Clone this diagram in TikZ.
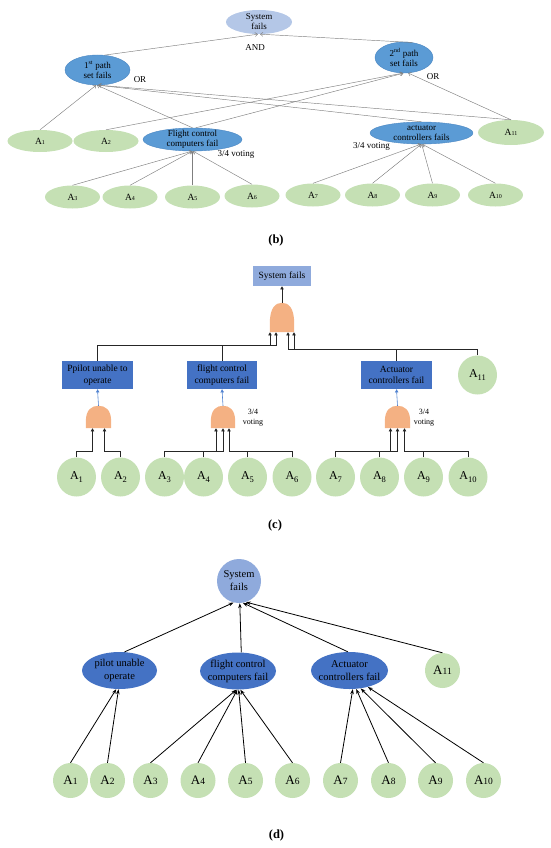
\documentclass[tikz,border=0pt]{standalone}
\usepackage{fontspec}
\setmainfont{Liberation Serif}
\usetikzlibrary{arrows.meta,shapes.geometric,calc}
\definecolor{sysb}{HTML}{B4C7E7}
\definecolor{midblue}{HTML}{5B9BD5}
\definecolor{midblueline}{HTML}{4A86C2}
\definecolor{leafgreen}{HTML}{C5E0B4}
\definecolor{sysc}{HTML}{8FAADC}
\definecolor{darkblue}{HTML}{4472C4}
\definecolor{gatecol}{HTML}{F4B183}
\definecolor{arrowgray}{HTML}{7F7F7F}
\definecolor{linkblue}{HTML}{4F81D0}
\newcommand{\Ab}[1]{A{\fontsize{6}{6}\selectfont #1}}
\newcommand{\Ac}[1]{A\raisebox{-2.2pt}{\fontsize{8.5}{9}\selectfont #1}}
\newcommand{\Ad}[1]{A{\fontsize{9.5}{10}\selectfont #1}}
\newcommand{\gateshape}[1]{%
  \fill[gatecol] (#1.south west) -- ($(#1.south west)!0.3!(#1.north west)$)
   .. controls ($(#1.south west)!0.85!(#1.north west)$) and ($(#1.north west)!0.5!(#1.north)$) .. (#1.north)
   .. controls ($(#1.north east)!0.5!(#1.north)$) and ($(#1.south east)!0.85!(#1.north east)$) .. ($(#1.south east)!0.3!(#1.north east)$)
   -- (#1.south east) -- cycle;}
\tikzset{
  lbltext/.style={align=center, inner sep=0pt, font=\fontsize{9}{10}\selectfont},
  lbltextd/.style={align=center, inner sep=0pt, font=\fontsize{10.5}{13}\selectfont},
  intext/.style={label={[lbltext]center:#1}},
  intextd/.style={label={[lbltextd]center:#1}},
  bell/.style={ellipse, inner sep=0pt, draw=midblueline, line width=0.4pt, fill=midblue},
  leafb/.style={ellipse, inner sep=0pt, fill=leafgreen, minimum width=55, minimum height=23, font=\fontsize{9.5}{10}\selectfont},
  plain/.style={inner sep=0pt, font=\fontsize{9}{10}\selectfont, align=center},
  barrow/.style={draw=arrowgray, line width=0.45pt, -{Straight Barb[length=2.5pt,width=4pt]}},
  crect/.style={rectangle, fill=darkblue, minimum width=71, minimum height=28, inner sep=0pt, align=center, font=\fontsize{9.5}{11.5}\selectfont},
  leafc/.style={circle, fill=leafgreen, minimum size=39, inner sep=0pt, font=\fontsize{12}{12}\selectfont},
  gatebox/.style={rectangle, inner sep=0pt, minimum width=24, minimum height=22},
  cline/.style={line width=0.8pt, draw=black!85},
  carrow/.style={cline, -{Triangle[length=3.2pt,width=3.4pt]}},
  bluearrow/.style={line width=0.6pt, draw=linkblue, -{Triangle[length=3.2pt,width=3.4pt]}},
  smalltxt/.style={inner sep=0pt, align=center, font=\fontsize{8}{10.3}\selectfont},
  dell/.style={ellipse, fill=darkblue, inner sep=0pt, minimum width=76, minimum height=37},
  leafd/.style={circle, fill=leafgreen, minimum size=35, inner sep=0pt, font=\fontsize{13}{13}\selectfont},
  darrow/.style={line width=0.8pt, draw=black, -{Stealth[length=5pt,width=3.6pt]}},
  seclabel/.style={inner sep=0pt, font=\fontsize{12.5}{13}\selectfont\bfseries}
}
\begin{document}
\begin{tikzpicture}[x=1pt,y=-1pt]
\useasboundingbox (0,0) rectangle (550,848);
% ---------------- (b) ----------------
\node[ellipse, inner sep=0pt, fill=sysb, minimum width=66, minimum height=24, intext={System\\fails}] (sysb) at (259,22) {};
\node[bell, minimum width=65, minimum height=30, intext={1\textsuperscript{st} path\\set fails}] (p1) at (97.5,70) {};
\node[bell, minimum width=58, minimum height=31, intext={2\textsuperscript{nd} path\\set fails}] (p2) at (404,57.5) {};
\node[leafb, minimum width=65, minimum height=22] (b1) at (40,141) {\Ab{1}};
\node[leafb, minimum width=65, minimum height=22] (b2) at (106,141) {\Ab{2}};
\node[bell, minimum width=99, minimum height=23, intext={Flight control\\computers fail}] (fccb) at (192.5,139.5) {};
\node[bell, minimum width=103, minimum height=22, intext={actuator\\controllers fails}] (actb) at (421.5,133) {};
\node[leafb, minimum width=66, minimum height=25] (b11) at (511,132.5) {\Ab{11}};
\node[leafb] (b3) at (72.5,197) {\Ab{3}};
\node[leafb] (b4) at (130,197) {\Ab{4}};
\node[leafb] (b5) at (192.5,197) {\Ab{5}};
\node[leafb] (b6) at (252,196) {\Ab{6}};
\node[leafb] (b7) at (313,195) {\Ab{7}};
\node[leafb] (b8) at (372.5,195) {\Ab{8}};
\node[leafb] (b9) at (432.5,195) {\Ab{9}};
\node[leafb] (b10) at (495.5,195) {\Ab{10}};
\node[plain] (andb) at (255,48) {AND};
\node[plain] (or1) at (140,80) {OR};
\node[plain] (or2) at (433,77) {OR};
\node[plain] (v1b) at (236,154) {3/4 voting};
\node[plain] (v2b) at (371.5,146) {3/4 voting};
\draw[barrow] (p1.65) -- (sysb.-95);
\draw[barrow] (p2.60) -- (sysb.-85);
\draw[barrow] (b1.north) -- (p1.-95);
\draw[barrow] (fccb.north) -- (p1.-92);
\draw[barrow] (actb.north) -- (p1.-88);
\draw[barrow] (b11.north) -- (p1.-86);
\draw[barrow] (b2.north) -- (p2.-95);
\draw[barrow] (fccb.75) -- (p2.-92);
\draw[barrow] (b11.north) -- (p2.-75);
\draw[barrow] (b3.north) -- (fccb.-93);
\draw[barrow] (b4.north) -- (fccb.-91);
\draw[barrow] (b5.north) -- (fccb.-90);
\draw[barrow] (b6.north) -- (fccb.-87);
\draw[barrow] (b7.north) -- (actb.-93);
\draw[barrow] (b8.north) -- (actb.-91);
\draw[barrow] (b9.north) -- (actb.-89);
\draw[barrow] (b10.north) -- (actb.-86);
\node[seclabel] (lb) at (276,240) {(b)};
% ---------------- (c) ----------------
\node[crect, fill=sysc, minimum width=58, minimum height=20] (sysc) at (282,276) {System fails};
\node[gatebox, minimum width=24, minimum height=29] (g0) at (282,317.5) {};
\gateshape{g0}
\node[crect] (pp) at (97.5,375) {Ppilot unable to\\operate};
\node[crect, minimum width=70] (fcr) at (222,375) {flight control\\computers fail};
\node[crect] (acr) at (396.5,375) {Actuator\\controllers fail};
\node[leafc] (c11) at (477.5,375) {\Ac{11}};
\node[gatebox, minimum width=25] (g1) at (98.5,417) {};
\node[gatebox] (g2) at (223,417) {};
\node[gatebox, minimum width=25] (g3) at (397.5,417) {};
\gateshape{g1}
\gateshape{g2}
\gateshape{g3}
\node[leafc] (c1) at (76.5,477) {\Ac{1}};
\node[leafc] (c2) at (120.5,477) {\Ac{2}};
\node[leafc] (c3) at (164.5,477) {\Ac{3}};
\node[leafc] (c4) at (203.5,477) {\Ac{4}};
\node[leafc] (c5) at (247.5,477) {\Ac{5}};
\node[leafc] (c6) at (292,477) {\Ac{6}};
\node[leafc] (c7) at (335.5,477) {\Ac{7}};
\node[leafc] (c8) at (379.5,477) {\Ac{8}};
\node[leafc] (c9) at (423.5,477) {\Ac{9}};
\node[leafc] (c10) at (468,477) {\Ac{10}};
\node[smalltxt] (v1c) at (253,417.5) {3/4\\voting};
\node[smalltxt] (v2c) at (424,418) {3/4\\voting};
\draw[carrow] (g0.north) -- (sysc.south);
\draw[carrow] (pp.north) |- ($(g0.south)+(-6,13)$) -- ($(g0.south)+(-6,0)$);
\draw[carrow] (fcr.north) |- ($(g0.south)+(-12,13)$) -- ($(g0.south)+(-12,0)$);
\draw[carrow] (acr.north) |- ($(g0.south)+(6,17)$) -- ($(g0.south)+(6,0)$);
\draw[carrow] (c11.north) |- ($(g0.south)+(12,17)$) -- ($(g0.south)+(12,0)$);
\draw[bluearrow] (g1.north) -- (pp.south);
\draw[bluearrow] (g2.north) -- (fcr.south);
\draw[bluearrow] (g3.north) -- (acr.south);
\draw[carrow] (c1.north) |- ($(g1.south)+(-6,23)$) -- ($(g1.south)+(-6,0)$);
\draw[carrow] (c2.north) |- ($(g1.south)+(6,23)$) -- ($(g1.south)+(6,0)$);
\draw[carrow] (c3.north) |- ($(g2.south)+(-7,23)$) -- ($(g2.south)+(-7,0)$);
\draw[carrow] (c4.north) |- ($(g2.south)+(0,23)$) -- (g2.south);
\draw[carrow] (c5.north) |- ($(g2.south)+(6,23)$) -- ($(g2.south)+(6,0)$);
\draw[cline] (c6.north) |- ($(g2.south)+(6,23)$);
\draw[carrow] (c7.north) |- ($(g3.south)+(-7,23)$) -- ($(g3.south)+(-7,0)$);
\draw[carrow] (c8.north) |- ($(g3.south)+(0,23)$) -- (g3.south);
\draw[carrow] (c9.north) |- ($(g3.south)+(7,23)$) -- ($(g3.south)+(7,0)$);
\draw[cline] (c10.north) |- ($(g3.south)+(7,23)$);
\node[seclabel] (lc) at (275,525) {(c)};
% ---------------- (d) ----------------
\node[circle, fill=sysc, minimum size=44, inner sep=0pt, intextd={System\\fails}] (sysd) at (239,581) {};
\node[dell, minimum width=75, intextd={pilot unable\\operate}] (pil) at (119.5,670.5) {};
\node[dell, intextd={flight control\\computers fail}] (fcd) at (238,671) {};
\node[dell, minimum width=77, intextd={Actuator\\controllers fail}] (acd) at (349.5,670.5) {};
\node[leafd] (d11) at (442.5,670.5) {\Ad{11}};
\node[leafd] (d1) at (70.5,780.5) {\Ad{1}};
\node[leafd] (d2) at (107.5,780.5) {\Ad{2}};
\node[leafd] (d3) at (150.5,780.5) {\Ad{3}};
\node[leafd] (d4) at (198,780.5) {\Ad{4}};
\node[leafd] (d5) at (245.5,780.5) {\Ad{5}};
\node[leafd] (d6) at (292.5,780.5) {\Ad{6}};
\node[leafd] (d7) at (340.5,780.5) {\Ad{7}};
\node[leafd] (d8) at (388.5,780.5) {\Ad{8}};
\node[leafd] (d9) at (435.5,780.5) {\Ad{9}};
\node[leafd] (d10) at (483.5,780.5) {\Ad{10}};
\draw[darrow] (pil.75) -- (sysd.-104);
\draw[darrow] (fcd.80) -- (sysd.-88);
\draw[darrow] (acd.95) -- (sysd.-80);
\draw[darrow] (d11.north) -- (sysd.-72);
\draw[darrow] (d1.north) -- (pil.-100);
\draw[darrow] (d2.north) -- (pil.-93);
\draw[darrow] (d3.north) -- (fcd.-95);
\draw[darrow] (d4.north) -- (fcd.-92);
\draw[darrow] (d5.north) -- (fcd.-88);
\draw[darrow] (d6.north) -- (fcd.-83);
\draw[darrow] (d7.north) -- (acd.-80);
\draw[darrow] (d8.north) -- (acd.-70);
\draw[darrow] (d9.north) -- (acd.-58);
\draw[darrow] (d10.north) -- (acd.-42);
\node[seclabel] (ld) at (276.5,835) {(d)};
\end{tikzpicture}
\end{document}
